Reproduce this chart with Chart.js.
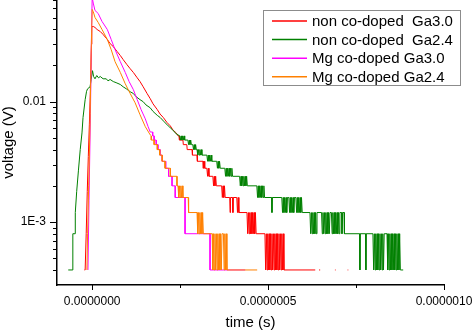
<!DOCTYPE html>
<html>
<head>
<meta charset="utf-8">
<script src="https://cdn.jsdelivr.net/npm/chart.js@4.4.1/dist/chart.umd.min.js"></script>
<style>
  html, body { margin: 0; padding: 0; background: #fff; }
  canvas { display: block; }
</style>
</head>
<body>
<canvas id="decayChart" width="474" height="333"></canvas>
<script>
// time in ns, voltage in V (the scope steps in 0.4 mV)
const seriesLabels = ['non co-doped  Ga3.0', 'non co-doped  Ga2.4', 'Mg co-doped Ga3.0', 'Mg co-doped Ga2.4']
const seriesColors = ['#ff0000', '#008000', '#ff00ff', '#ff8000']

const xMajor = [0, 500, 1000]
const xMajorLabels = ['0.0000000', '0.0000005', '0.0000010']
const xMinor = [250, 750]
const yMajor = [0.001, 0.01]
const yMajorLabels = ['1E-3', '0.01']
const yMinor = [4e-4, 5e-4, 6e-4, 7e-4, 8e-4, 9e-4, 0.002, 0.003, 0.004, 0.005, 0.006, 0.007, 0.008, 0.009, 0.02, 0.03, 0.04, 0.05, 0.06, 0.07]

const nonGa30 = [
  [-22, 4e-4], [-20, 4e-4], [-17, 8e-4], [-14, 0.0018], [-11, 0.0035], [-8, 0.0065], [-5, 0.013], [-2, 0.03], [-1, 0.042],
  [3, 0.0422], [8, 0.0414], [14, 0.0398], [23, 0.0383], [31, 0.0362], [43, 0.0329], [51, 0.0304], [60, 0.0287], [71, 0.0261],
  [80, 0.0242], [88, 0.0224], [99, 0.0203], [108, 0.0188], [117, 0.0175], [128, 0.0158], [136, 0.0147], [145, 0.0133],
  [156, 0.0117], [165, 0.0106], [173, 0.0096], [185, 0.0086], [193, 0.0079], [202, 0.0074], [213, 0.0067], [222, 0.0063],
  [230, 0.0058], [239, 0.0055], [244, 0.0052],
  [247, 0.0052], [248, 0.0048], [258, 0.0048], [259, 0.0044], [269, 0.0044], [270, 0.004], [284, 0.004], [285, 0.0036],
  [298, 0.0036], [299, 0.0032], [315, 0.0032], [316, 0.0028], [318, 0.0032], [320, 0.0028], [326, 0.0028], [328, 0.0024],
  [330, 0.0028], [332, 0.0024], [343, 0.0024], [345, 0.002], [347, 0.0024], [349, 0.002], [351, 0.0024], [353, 0.002],
  [368, 0.002], [370, 0.0016], [372, 0.002], [374, 0.0016], [376, 0.002], [378, 0.0016], [391, 0.0016], [392, 0.0012],
  [393, 0.0016], [399, 0.0016], [400, 0.0012], [401, 0.0016], [411, 0.0016], [413, 0.0012], [415, 0.0016], [417, 0.0012],
  [440, 0.0012], [442, 8e-4], [444, 0.0012], [446, 8e-4], [448, 0.0012], [450, 8e-4], [452, 0.0012], [454, 8e-4],
  [456, 0.0012], [458, 8e-4], [460, 0.0012], [462, 8e-4], [464, 0.0012], [466, 8e-4], [491, 8e-4],
  [493, 4e-4], [495, 8e-4], [497, 4e-4], [499, 8e-4], [501, 4e-4], [503, 8e-4], [505, 4e-4], [507, 8e-4], [509, 4e-4],
  [511, 8e-4], [513, 4e-4], [515, 8e-4], [517, 4e-4], [519, 8e-4], [521, 4e-4], [523, 8e-4], [525, 4e-4], [527, 8e-4],
  [529, 4e-4], [531, 8e-4], [533, 4e-4], [535, 8e-4], [537, 4e-4], [539, 8e-4], [541, 4e-4], [543, 8e-4], [545, 4e-4],
  [634, 4e-4], [635, null], [645, 4e-4], [648, 4e-4], [649, null], [662, 4e-4], [664, 4e-4], [665, null],
  [690, 4e-4], [692, 4e-4], [693, null], [726, 4e-4], [728, 4e-4]
]

const nonGa24 = [
  [-68, 4e-4], [-55, 4e-4], [-55, 8e-4], [-48, 8e-4], [-48, 0.0012], [-44, 0.0018], [-39, 0.0027], [-34, 0.004],
  [-29, 0.0055], [-26, 0.0074], [-20, 0.0104], [-16, 0.0122], [-13, 0.0128], [-6, 0.0133], [-3, 0.0153], [1, 0.0181],
  [4, 0.0162], [8, 0.0155], [13, 0.0165], [18, 0.0158], [23, 0.0162], [31, 0.0155], [40, 0.0155], [45, 0.0149],
  [51, 0.0153], [60, 0.0147], [68, 0.0144], [80, 0.0139], [88, 0.0133], [97, 0.0128], [108, 0.0121], [117, 0.0117],
  [125, 0.011], [136, 0.0104], [145, 0.01], [153, 0.0094], [165, 0.0089], [173, 0.0083], [185, 0.0077], [193, 0.0074],
  [205, 0.0068], [216, 0.0063], [227, 0.0059], [239, 0.0054], [249, 0.0052],
  [251, 0.0048], [253, 0.0052], [255, 0.0048], [257, 0.0052], [259, 0.0048], [261, 0.0052], [263, 0.0048], [272, 0.0048],
  [274, 0.0044], [276, 0.0048], [278, 0.0044], [280, 0.0048], [282, 0.0044], [286, 0.0044],
  [288, 0.004], [290, 0.0044], [292, 0.004], [294, 0.0044], [296, 0.004], [298, 0.004],
  [300, 0.0036], [302, 0.004], [304, 0.0036], [306, 0.004], [308, 0.0036], [310, 0.004], [312, 0.0036], [326, 0.0036],
  [328, 0.0032], [330, 0.0036], [332, 0.0032], [334, 0.0036], [336, 0.0032], [338, 0.0036], [340, 0.0032], [354, 0.0032],
  [356, 0.0028], [358, 0.0032], [360, 0.0028], [362, 0.0032], [364, 0.0028], [377, 0.0028],
  [379, 0.0024], [381, 0.0028], [383, 0.0024], [385, 0.0028], [387, 0.0024], [389, 0.0028], [391, 0.0024], [393, 0.0028],
  [395, 0.0024], [397, 0.0028], [399, 0.0024], [419, 0.0024],
  [421, 0.002], [423, 0.0024], [425, 0.002], [427, 0.0024], [429, 0.002], [431, 0.0024], [433, 0.002], [435, 0.0024],
  [437, 0.002], [439, 0.0024], [441, 0.002], [468, 0.002],
  [470, 0.0016], [472, 0.002], [474, 0.0016], [476, 0.002], [478, 0.0016], [480, 0.002], [482, 0.0016], [484, 0.002],
  [486, 0.0016], [488, 0.002], [490, 0.0016], [510, 0.0016], [511, 0.0012], [512, 0.0016], [539, 0.0016],
  [541, 0.0012], [543, 0.0016], [545, 0.0012], [547, 0.0016], [549, 0.0012], [551, 0.0016], [553, 0.0012], [555, 0.0016],
  [559, 0.0016], [561, 0.0012], [563, 0.0016], [565, 0.0012], [567, 0.0016], [569, 0.0012], [571, 0.0016], [573, 0.0012],
  [575, 0.0016], [579, 0.0016], [581, 0.0012], [583, 0.0016], [585, 0.0012], [587, 0.0016], [589, 0.0012], [591, 0.0016],
  [593, 0.0012], [595, 0.0016], [597, 0.0012], [619, 0.0012],
  [621, 8e-4], [623, 0.0012], [625, 8e-4], [627, 0.0012], [629, 8e-4], [631, 0.0012], [633, 8e-4], [635, 0.0012],
  [637, 8e-4], [639, 0.0012], [652, 0.0012], [654, 8e-4], [656, 0.0012], [658, 8e-4], [660, 0.0012], [662, 8e-4],
  [664, 0.0012], [666, 8e-4], [668, 0.0012], [670, 8e-4], [672, 0.0012], [674, 8e-4], [676, 0.0012], [680, 0.0012],
  [682, 8e-4], [684, 0.0012], [686, 8e-4], [688, 0.0012], [690, 8e-4], [692, 0.0012], [694, 8e-4], [696, 0.0012],
  [698, 8e-4], [700, 0.0012], [702, 8e-4], [704, 0.0012], [709, 0.0012], [710, 8e-4], [712, 0.0012], [716, 0.0012],
  [717, 8e-4], [760, 8e-4], [761, 4e-4], [762, 8e-4], [777, 8e-4], [778, 4e-4], [779, 8e-4],
  [798, 8e-4], [800, 4e-4], [802, 8e-4], [804, 4e-4], [806, 8e-4], [808, 4e-4], [810, 8e-4], [812, 4e-4], [814, 8e-4],
  [816, 4e-4], [818, 8e-4], [820, 4e-4], [822, 8e-4], [824, 4e-4], [826, 8e-4], [828, 4e-4], [830, 8e-4], [838, 8e-4],
  [840, 4e-4], [842, 8e-4], [844, 4e-4], [846, 8e-4], [848, 4e-4], [850, 8e-4], [852, 4e-4], [854, 8e-4], [856, 4e-4],
  [858, 8e-4], [860, 4e-4], [862, 8e-4], [864, 4e-4], [866, 8e-4], [868, 4e-4], [870, 8e-4], [872, 4e-4], [874, 8e-4],
  [876, 4e-4], [884, 4e-4]
]

const mgGa30 = [
  [-12, 4e-4], [-9, 0.0015], [-5, 0.008], [-2, 0.035], [0, 0.0736], [3, 0.066], [8, 0.0573], [14, 0.0552], [17, 0.0541],
  [28, 0.0464], [43, 0.0398], [54, 0.0329], [65, 0.0271], [80, 0.0215], [94, 0.0175], [105, 0.0147], [117, 0.0126],
  [128, 0.0104], [139, 0.0086], [151, 0.0072], [159, 0.0062], [165, 0.0056],
  [172, 0.0056], [172, 0.0052], [176, 0.0052], [176, 0.0048], [182, 0.0048], [182, 0.0044], [187, 0.0044], [187, 0.004],
  [193, 0.004], [193, 0.0036], [199, 0.0036], [199, 0.0032], [209, 0.0032], [209, 0.0028], [217, 0.0028], [217, 0.0024],
  [227, 0.0024], [227, 0.002], [236, 0.002], [236, 0.0016], [264, 0.0016], [264, 8e-4], [335, 8e-4], [335, 4e-4], [435, 4e-4]
]

const mgGa24 = [
  [-15, 4e-4], [-13, 8e-4], [-10, 0.002], [-6, 0.007], [-3, 0.025], [0, 0.0584], [3, 0.056], [8, 0.0501], [17, 0.0456],
  [28, 0.0398], [43, 0.0329], [54, 0.0271], [65, 0.0215], [80, 0.0175], [94, 0.0141], [108, 0.0117], [122, 0.0098],
  [136, 0.0078], [151, 0.0062], [165, 0.0053],
  [168, 0.0052], [168, 0.0048], [176, 0.0048], [176, 0.0044], [185, 0.0044], [185, 0.004], [192, 0.004], [192, 0.0036],
  [199, 0.0036], [199, 0.0032], [207, 0.0032], [207, 0.0028], [222, 0.0028], [222, 0.0024], [241, 0.0024], [241, 0.002],
  [244, 0.002], [246, 0.0016], [248, 0.002], [250, 0.0016], [252, 0.002], [254, 0.0016], [256, 0.002], [258, 0.0016],
  [273, 0.0016], [274, 0.0012], [298, 0.0012],
  [300, 8e-4], [302, 0.0012], [304, 8e-4], [306, 0.0012], [308, 8e-4], [310, 0.0012], [312, 8e-4], [314, 0.0012],
  [316, 8e-4], [341, 8e-4],
  [343, 4e-4], [345, 8e-4], [347, 4e-4], [349, 8e-4], [351, 4e-4], [353, 8e-4], [355, 4e-4], [357, 8e-4], [359, 4e-4],
  [361, 8e-4], [363, 4e-4], [365, 8e-4], [367, 4e-4], [369, 8e-4], [373, 8e-4], [375, 4e-4], [377, 8e-4], [379, 4e-4],
  [381, 8e-4], [383, 4e-4], [469, 4e-4]
]

const FONT = '"Liberation Sans", Arial, sans-serif'

const near = (a, b) => Math.abs(a - b) < b * 1e-6 + 1e-12

// outward tick marks (long for labelled ticks) and the boxed legend
const axisDecor = {
  id: 'axisDecor',
  afterDraw(chart) {
    const { ctx, chartArea: area, scales: { x, y } } = chart
    ctx.save()
    ctx.strokeStyle = '#000'
    ctx.lineWidth = 1
    ctx.beginPath()
    xMajor.concat(xMinor).forEach(v => {
      const px = Math.round(x.getPixelForValue(v)) + 0.5
      const len = xMajor.includes(v) ? 5 : 3
      ctx.moveTo(px, area.bottom)
      ctx.lineTo(px, area.bottom + len)
    })
    yMajor.concat(yMinor).forEach(v => {
      const py = Math.round(y.getPixelForValue(v)) + 0.5
      const len = yMajor.includes(v) ? 7 : 4
      ctx.moveTo(area.left, py)
      ctx.lineTo(area.left - len, py)
    })
    ctx.stroke()

    // legend box
    ctx.fillStyle = '#fff'
    ctx.fillRect(263.5, 10.5, 197, 75)
    ctx.strokeStyle = '#8c8c8c'
    ctx.strokeRect(263.5, 10.5, 197, 75)
    ctx.font = '15px ' + FONT
    ctx.textBaseline = 'middle'
    ctx.textAlign = 'left'
    chart.data.datasets.forEach((ds, i) => {
      const ly = 21 + i * 18.6
      ctx.strokeStyle = ds.borderColor
      ctx.lineWidth = 1.5
      ctx.beginPath()
      ctx.moveTo(272, ly)
      ctx.lineTo(307, ly)
      ctx.stroke()
      ctx.fillStyle = '#000'
      ctx.fillText(ds.label, 312, ly + 1)
    })
    ctx.restore()
  }
}

const series = [nonGa30, nonGa24, mgGa30, mgGa24]

new Chart(document.getElementById('decayChart'), {
  type: 'line',
  data: {
    datasets: series.map((pts, i) => ({
      label: seriesLabels[i],
      data: pts.map(([t, v]) => ({ x: t, y: v })),
      borderColor: seriesColors[i],
      backgroundColor: seriesColors[i],
      borderWidth: 1,
      pointRadius: 0,
      tension: 0,
      spanGaps: false,
      order: series.length - i
    }))
  },
  options: {
    responsive: false,
    animation: false,
    layout: { padding: { top: 0, right: 30, left: 0, bottom: 0 } },
    plugins: {
      legend: { display: false },
      tooltip: { enabled: false }
    },
    scales: {
      x: {
        type: 'linear',
        min: -100,
        max: 1000,
        grid: { display: false, drawTicks: false },
        border: { display: true, color: '#000', width: 1.5 },
        afterBuildTicks: s => { s.ticks = xMajor.map(v => ({ value: v })) },
        afterFit: s => { s.height = 48; s.paddingLeft = 0; s.paddingRight = 0 },
        ticks: {
          autoSkip: false,
          maxRotation: 0,
          padding: 9,
          color: '#000',
          font: { family: FONT, size: 12 },
          callback: v => {
            const k = xMajor.findIndex(m => m === v)
            return k >= 0 ? xMajorLabels[k] : ''
          }
        },
        title: {
          display: true,
          text: 'time (s)',
          color: '#000',
          font: { family: FONT, size: 15 },
          padding: { top: 0, bottom: 1 }
        }
      },
      y: {
        type: 'logarithmic',
        min: 3e-4,
        max: 0.07,
        grid: { display: false, drawTicks: false },
        border: { display: true, color: '#000', width: 1.5 },
        afterBuildTicks: s => { s.ticks = yMajor.map(v => ({ value: v })) },
        afterFit: s => { s.width = 57; s.paddingTop = 0; s.paddingBottom = 0 },
        ticks: {
          autoSkip: false,
          padding: 11,
          color: '#000',
          font: { family: FONT, size: 12 },
          callback: v => {
            const k = yMajor.findIndex(m => near(v, m))
            return k >= 0 ? yMajorLabels[k] : ''
          }
        },
        title: {
          display: true,
          text: 'voltage (V)',
          color: '#000',
          font: { family: FONT, size: 15 },
          padding: { top: 0, bottom: 0 }
        }
      }
    }
  },
  plugins: [axisDecor]
})
</script>
</body>
</html>
